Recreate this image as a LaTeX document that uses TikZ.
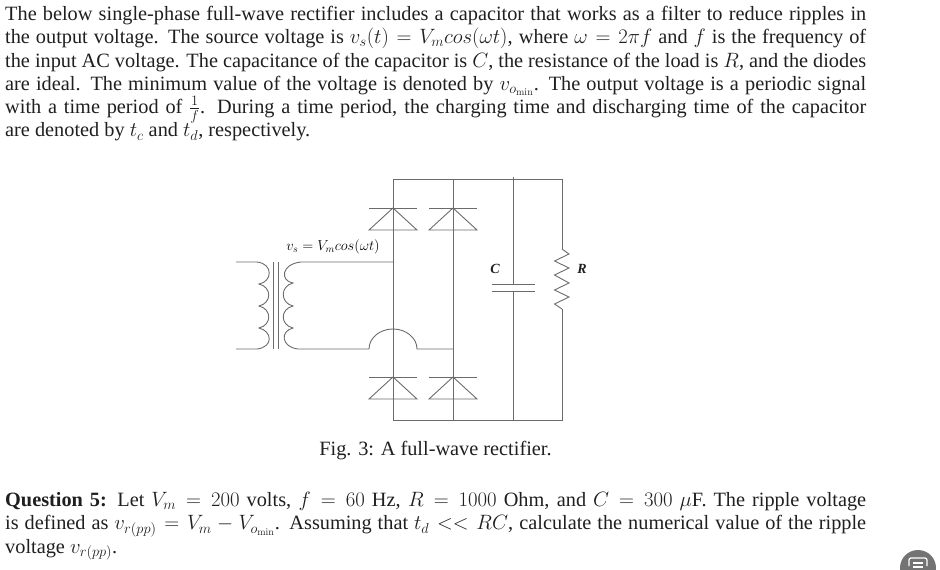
\documentclass[tikz,border=0pt]{standalone}
\usepackage[no-math]{fontspec}
\setmainfont{Liberation Serif}
\tikzset{
  wire/.style={draw=black!58,line width=0.9pt},
  para/.style={anchor=north west,inner sep=0pt,text width=861pt,align=justify,text=black!88,
    font=\fontsize{20.3}{23.3}\selectfont,execute at begin node={\lineskiplimit=-20pt}},
  partlabel/.style={inner sep=0pt,text=black!88,font=\fontsize{14}{15}\selectfont\bfseries}
}
\newcommand{\vomin}[1]{#1_{o_{\mathrm{min}}}}
\begin{document}
\begin{tikzpicture}[x=1pt,y=-1pt]
\useasboundingbox (0,0) rectangle (940,570);
% text above the circuit
\node[para] (intro) at (5,6) {The below single-phase full-wave rectifier includes a capacitor that works as a filter to reduce ripples in\linebreak
the output voltage. The source voltage is $v_s(t)=V_m cos(\omega t)$, where $\omega=2\pi f$ and $f$ is the frequency of\linebreak
the input AC voltage. The capacitance of the capacitor is $C$, the resistance of the load is $R$, and the diodes\linebreak
are ideal. The minimum value of the voltage is denoted by $\vomin{v}$. The output voltage is a periodic signal\linebreak
with a time period of $\frac{1}{f}$. During a time period, the charging time and discharging time of the capacitor\linebreak
are denoted by $t_c$ and $t_d$, respectively.};
% named points of the circuit
\coordinate (topL) at (393,179);
\coordinate (topM) at (453,179);
\coordinate (topC) at (513,179);
\coordinate (topR) at (562,179);
\coordinate (botL) at (393,420);
\coordinate (botM) at (453,420);
\coordinate (botC) at (513,420);
\coordinate (botR) at (562,420);
\coordinate (sec1) at (393,262);
\coordinate (jumpL) at (369,349);
\coordinate (jumpR) at (417,349);
\coordinate (sec2) at (453,349);
\coordinate (capA) at (513,284);
\coordinate (capB) at (513,291);
\coordinate (resA) at (562,249);
\coordinate (resB) at (562,309);
% bridge wires
\draw[wire] (botL) -- (topL) -- (topR) -- (resA);
\draw[wire] (resB) -- (botR) -- (botL);
\draw[wire] (topM) -- (botM);
\draw[wire] (513,177) -- (capA);
\draw[wire] (capB) -- (botC);
% diodes
\foreach \dx in {393,453}{
  \foreach \dy in {208,377}{
    \draw[wire] (\dx-24,\dy) -- (\dx+24,\dy);
    \draw[wire] (\dx,\dy) -- (\dx+24,\dy+22) -- (\dx-24,\dy+22) -- cycle;
  }
}
% capacitor and load
\draw[wire] (492,284) -- (535,284);
\draw[wire] (492,291) -- (535,291);
\draw[wire] (resA) -- (569,254) -- (554.5,261) -- (569,268) -- (554.5,275) -- (569,283) -- (554.5,290) -- (569,297) -- (554.5,304) -- (resB);
\node[partlabel] (clabel) at (495,269) {\itshape C};
\node[partlabel] (rlabel) at (582,269) {\itshape R};
% transformer
\draw[wire] (273,262) -- (273,349);
\draw[wire] (278,262) -- (278,349);
\draw[wire] (236,262) -- (257,262) .. controls (274,264) and (272,282) .. (259,284)
  .. controls (272,287) and (272,303) .. (259,306)
  .. controls (272,309) and (272,325) .. (259,328)
  .. controls (272,331) and (274,347) .. (257,349) -- (236,349);
\draw[wire] (sec1) -- (301,262) .. controls (281,264) and (280,281) .. (293,283)
  .. controls (280,286) and (280,303) .. (293,306)
  .. controls (280,309) and (280,325) .. (293,328)
  .. controls (280,331) and (281,347) .. (298,349) -- (jumpL);
\draw[wire] (jumpL) arc[start angle=180,end angle=360,x radius=24,y radius=20] -- (sec2);
\node[inner sep=0pt,text=black,font=\fontsize{14}{17}\selectfont] (vs) at (333,247) {$v_s = V_m cos(\omega t)$};
% caption and question
\node[inner sep=0pt,text=black!88,font=\fontsize{20.3}{23.6}\selectfont] (caption) at (435.5,451) {Fig. 3: A full-wave rectifier.};
\node[para] (question) at (5,492) {\textbf{Question 5:} Let $V_m=200$ volts, $f=60$ Hz, $R=1000$ Ohm, and $C=300$ $\mu$F. The ripple voltage\linebreak
is defined as $v_{r(pp)}=V_m-\vomin{V}$. Assuming that $t_d<<RC$, calculate the numerical value of the ripple\linebreak
voltage $v_{r(pp)}$.};
% round button in the corner
\node[circle,fill=black!55,minimum size=36pt,inner sep=0pt] (button) at (918,568) {};
\draw[white,line width=1.2pt,rounded corners=2pt] (909,566) -- (909,558) -- (927,558) -- (927,566);
\draw[white,line width=1.2pt] (913,563) -- (923,563) (913,567) -- (923,567);
\end{tikzpicture}
\end{document}
